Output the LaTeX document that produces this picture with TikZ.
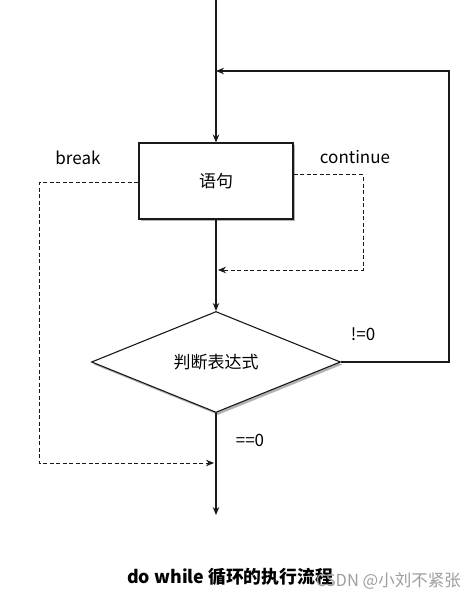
\documentclass[tikz,border=0pt]{standalone}
\usepackage{fontspec}
\setmainfont{Noto Sans CJK SC}
\usetikzlibrary{shapes.geometric,arrows.meta,shadows,calc}
\tikzset{
  line/.style={draw=black!90, line width=1.1pt},
  arr/.style={line, -{Stealth[length=8pt,width=6.5pt]}},
  dasharr/.style={arr, line width=1pt, dash pattern=on 4pt off 2.5pt},
  shad/.style={drop shadow={opacity=0.3, shadow xshift=2pt, shadow yshift=-2.5pt, fill=black}},
  stmt/.style={rectangle, line, fill=white, shad, minimum width=154pt, minimum height=76pt, font=\fontsize{17}{19}\selectfont},
  cond/.style={diamond, line, fill=white, shad, minimum width=249pt, minimum height=101pt, inner sep=0pt, font=\fontsize{17}{19}\selectfont},
  lab/.style={font=\fontsize{17}{19}\selectfont, inner sep=0pt},
}
\begin{document}
\begin{tikzpicture}[x=1pt,y=-1pt]
\useasboundingbox[fill=white] (0,0) rectangle (474,601);
\node[stmt] (s) at (216,181) {语句};
\node[cond] (d) at (216,362) {判断表达式};
\coordinate (top) at (216,0);
\coordinate (join) at (216,71);
\coordinate (rt) at (449,71);
\coordinate (rb) at (449,362);
\coordinate (end) at (216,515);
\coordinate (bl1) at (39,183);
\coordinate (bl2) at (39,463);
\coordinate (bend) at (214,463);
\coordinate (cr1) at (363,175);
\coordinate (cr2) at (363,270);
\coordinate (cend) at (218,270);
% main flow
\draw[arr] (top) -- (s.north);
\draw[arr] (s.south) -- (d.north);
\draw[arr] (d.east) -- (rb) -- (rt) -- (join);
\draw[arr] (d.south) -- (end);
% break / continue
\draw[dasharr] ($(s.west)+(0,2)$) -- (bl1) -- (bl2) -- (bend);
\draw[dasharr] ($(s.east)+(0,-6)$) -- (cr1) -- (cr2) -- (cend);
% labels
\node[lab] (lbreak) at (78,158) {break};
\node[lab] (lcont) at (355,157) {continue};
\node[lab] (lne) at (363,334) {!=0};
\node[lab] (leq) at (250,440) {==0};
\node[font=\fontsize{17.8}{20}\selectfont\bfseries, inner sep=0pt, anchor=west] (cap) at (127,577) {do while 循环的执行流程};
\node[font=\fontsize{16.5}{19}\selectfont, text=black!38, inner sep=0pt, anchor=east] (wm) at (461,581) {CSDN @小刘不紧张};
\end{tikzpicture}
\end{document}
